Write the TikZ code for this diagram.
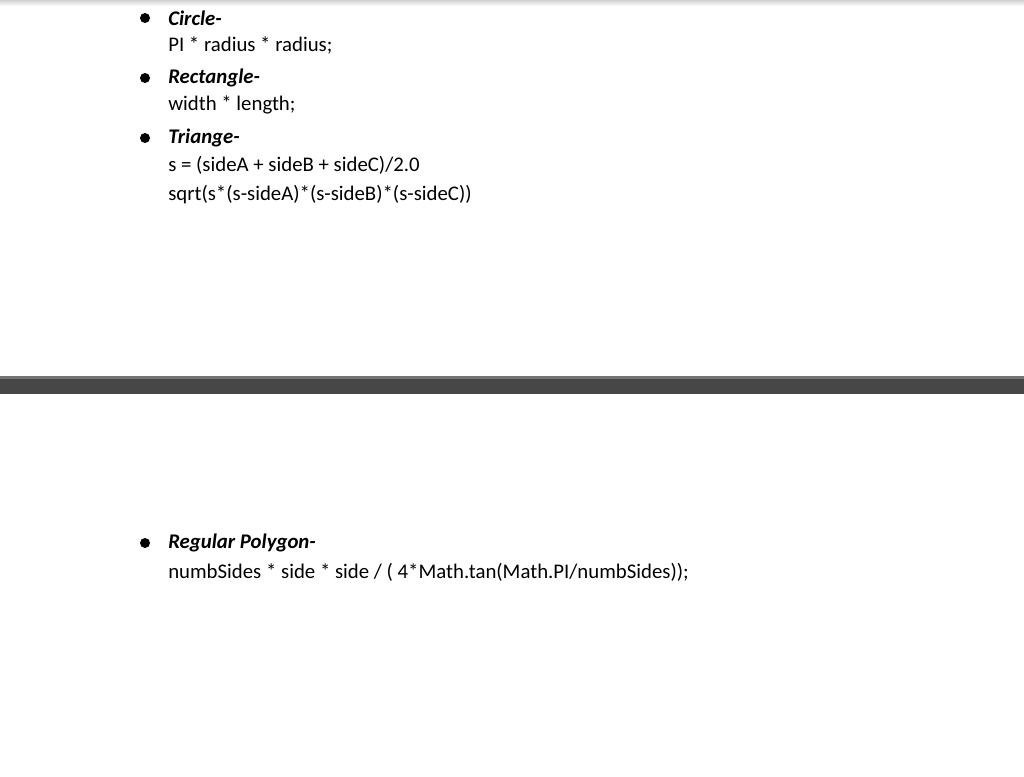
\documentclass[tikz,border=0pt]{standalone}
\usepackage{fontspec}
\setmainfont{Carlito}
\usetikzlibrary{positioning}
\begin{document}
\begin{tikzpicture}
[
          x = 0.75pt, y = -0.75pt,
  bullet/.style = { draw=none, fill=black, circle, inner sep=0pt, minimum size=7.5pt },
    head/.style = { anchor=west, inner sep=0pt, font=\fontsize{15.6}{18}\selectfont\bfseries\itshape },
    body/.style = { anchor=west, inner sep=0pt, font=\fontsize{15.6}{18}\selectfont }
]
    \useasboundingbox[fill=white] (0,0) rectangle (1024,777);
    % page shadow at top and page break
    \shade[top color=black!18, bottom color=white] (0,0) rectangle (1024,6);
    \fill[black!72] (0,376) rectangle (1024,394);
    \fill[black!55] (0,376) rectangle (1024,379);

    \node (b1) at (145, 18) [bullet] {};
    \node (Circle) at (168, 18) [head] {Circle-};
    \node (CircleF) at (168, 45) [body] {PI * radius * radius;};

    \node (b2) at (145, 78) [bullet] {};
    \node (Rect) at (168, 78) [head] {Rectangle-};
    \node (RectF) at (168,105) [body] {width * length;};

    \node (b3) at (145,138) [bullet] {};
    \node (Tri) at (168,138) [head] {Triange-};
    \node (TriS) at (168,165) [body] {s = (sideA + sideB + sideC)/2.0};
    \node (TriF) at (168,195) [body] {sqrt(s*(s-sideA)*(s-sideB)*(s-sideC))};

    \node (b4) at (145,543) [bullet] {};
    \node (Poly) at (168,543) [head] {Regular Polygon-};
    \node (PolyF) at (168,572) [body] {numbSides * side * side / ( 4*Math.tan(Math.PI/numbSides));};
\end{tikzpicture}
\end{document}
